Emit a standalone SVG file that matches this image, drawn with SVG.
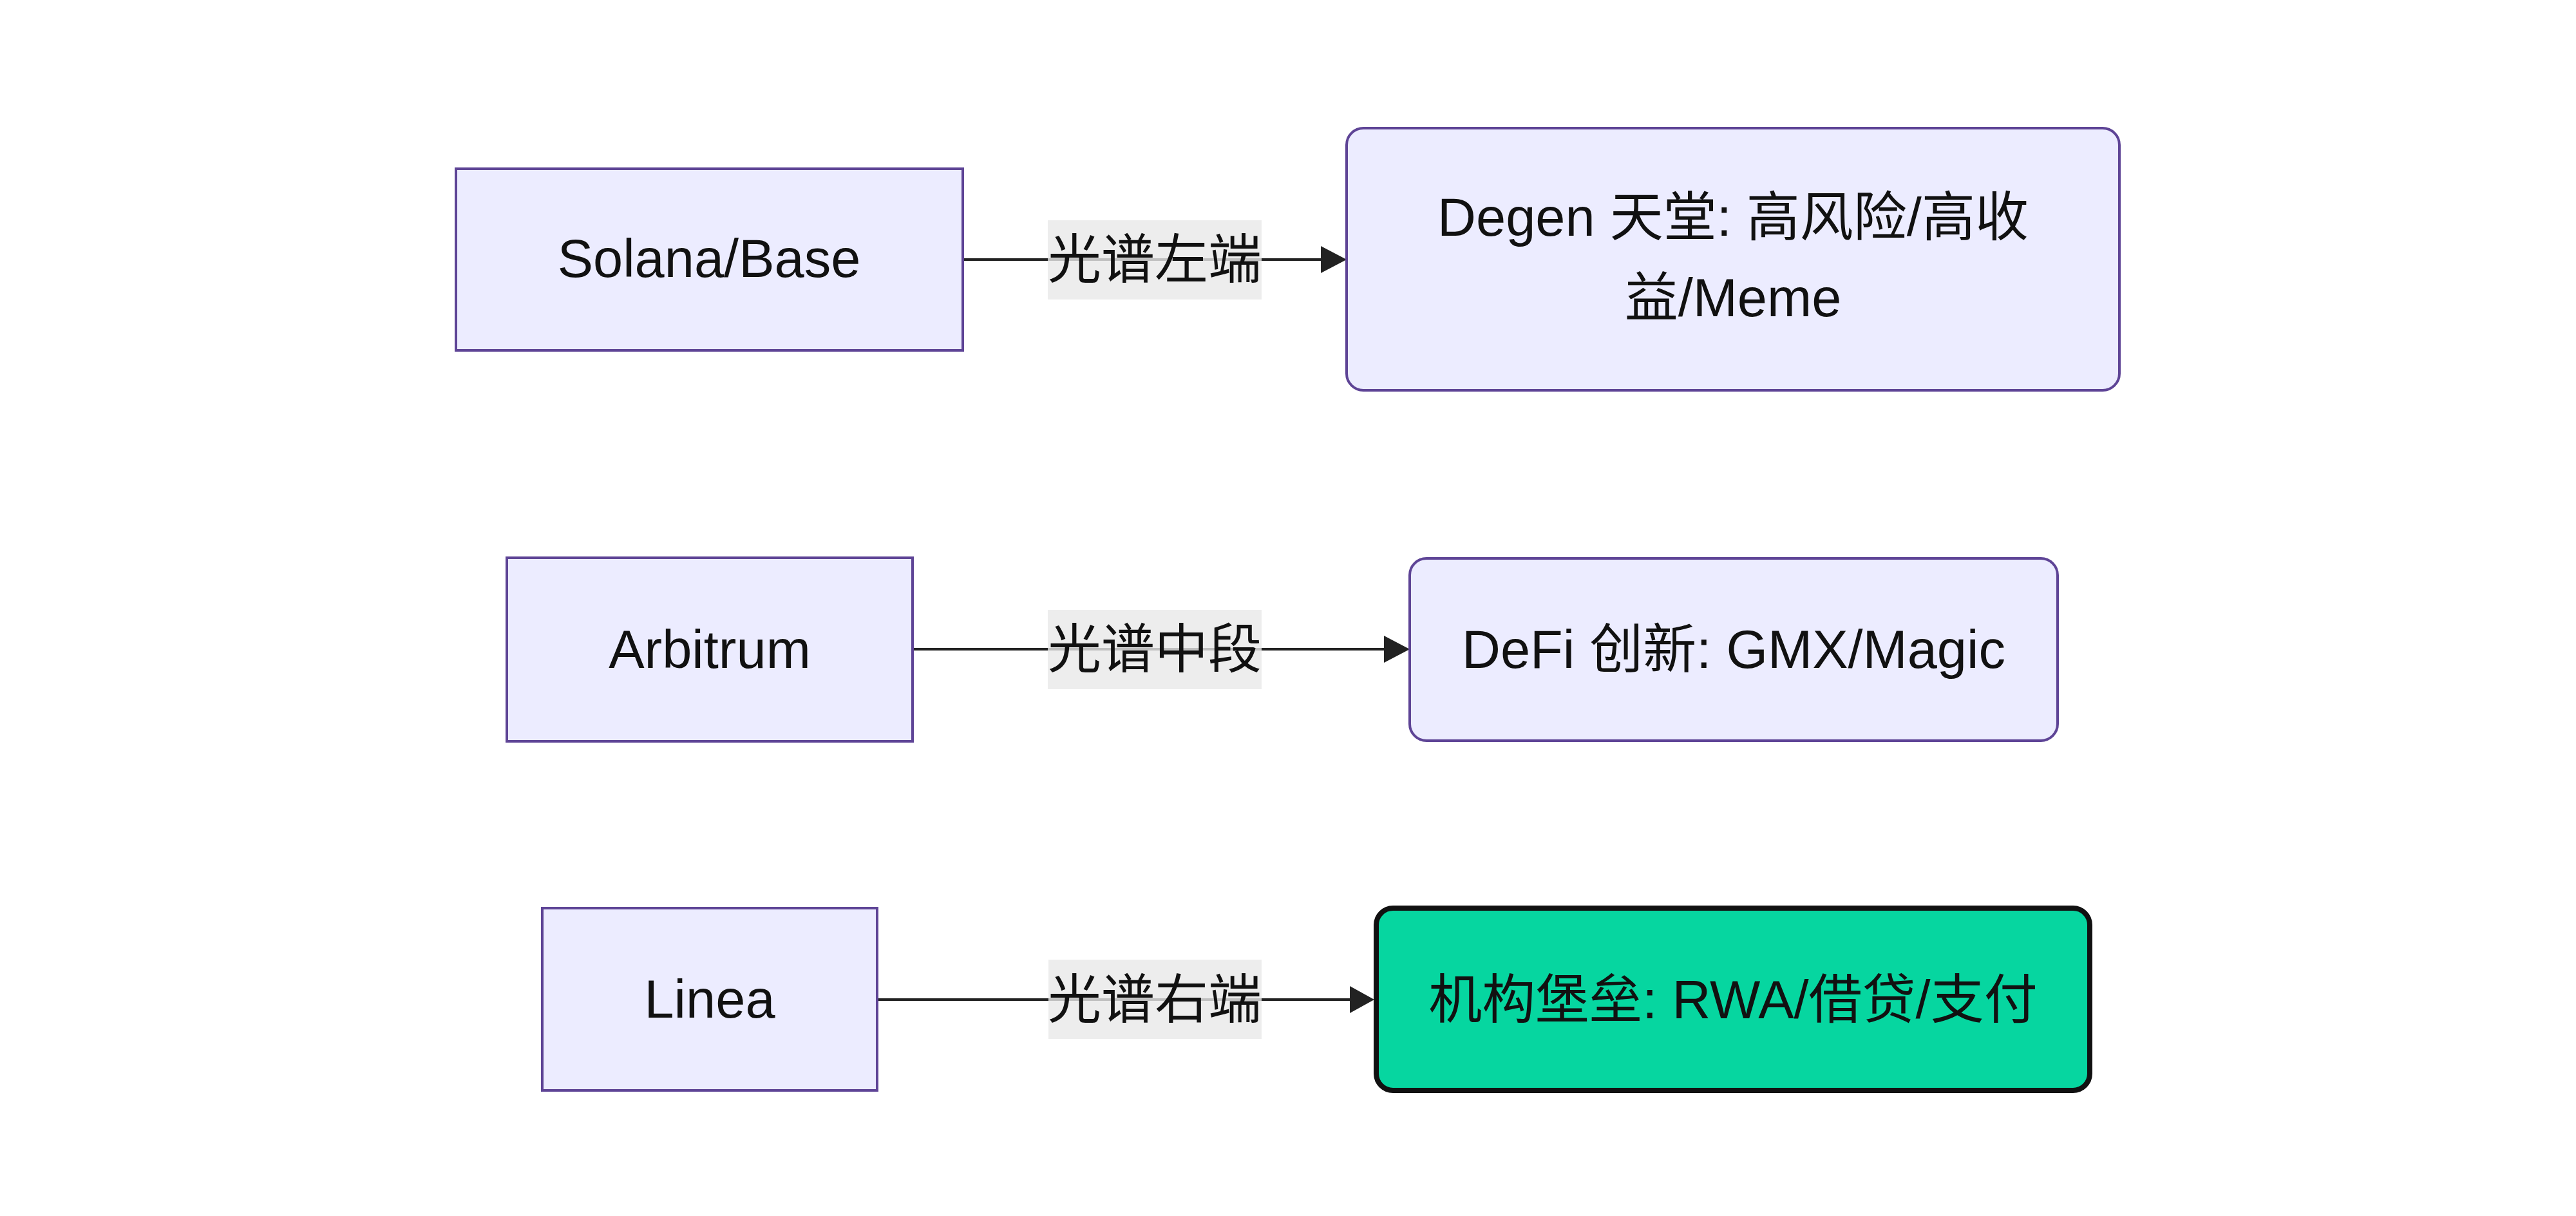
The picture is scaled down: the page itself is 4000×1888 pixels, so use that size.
<svg xmlns="http://www.w3.org/2000/svg" width="4000" height="1888" viewBox="0 0 4000 1888">
<style>
.bg{fill:#ffffff}
.node{fill:#ececff;stroke:#5e4496;stroke-width:4}
.hl{fill:#06d6a0;stroke:#111111;stroke-width:8}
.t{font-family:"Liberation Sans","Noto Sans CJK SC",sans-serif;font-size:83px;fill:#111111;text-anchor:middle}
.edge{stroke:#222222;stroke-width:4;fill:none}
.arrow{fill:#222222}
.lblbg{fill:#e8e8e8;fill-opacity:0.8}
</style>
<rect class="bg" x="0" y="0" width="4000" height="1888"/>
<g id="connectors">
  <g id="e1">
    <line class="edge" x1="1495" y1="403" x2="2056" y2="403"/>
    <polygon class="arrow" points="2051,382 2091,403 2051,424"/>
    <rect class="lblbg" x="1627" y="342" width="332" height="123"/>
    <text class="t" x="1793" y="432">光谱左端</text>
  </g>
  <g id="e2">
    <line class="edge" x1="1417" y1="1008" x2="2154" y2="1008"/>
    <polygon class="arrow" points="2149,987 2189,1008 2149,1029"/>
    <rect class="lblbg" x="1627" y="947" width="332" height="123"/>
    <text class="t" x="1793" y="1037">光谱中段</text>
  </g>
  <g id="e3">
    <line class="edge" x1="1362" y1="1552" x2="2100" y2="1552"/>
    <polygon class="arrow" points="2096,1531 2134,1552 2096,1573"/>
    <rect class="lblbg" x="1628" y="1490" width="331" height="123"/>
    <text class="t" x="1793" y="1581">光谱右端</text>
  </g>
</g>
<g id="solana">
  <rect class="node" x="708" y="262" width="787" height="282"/>
  <text class="t" x="1101" y="430">Solana/Base</text>
</g>
<g id="degen">
  <rect class="node" x="2091" y="199" width="1200" height="407" rx="26" ry="26"/>
  <text class="t" x="2691" y="366">Degen 天堂: 高风险/高收</text>
  <text class="t" x="2691" y="491">益/Meme</text>
</g>
<g id="arbitrum">
  <rect class="node" x="787" y="866" width="630" height="285"/>
  <text class="t" x="1102" y="1037">Arbitrum</text>
</g>
<g id="defi">
  <rect class="node" x="2189" y="867" width="1006" height="283" rx="26" ry="26"/>
  <text class="t" x="2692" y="1037">DeFi 创新: GMX/Magic</text>
</g>
<g id="linea">
  <rect class="node" x="842" y="1410" width="520" height="283"/>
  <text class="t" x="1102" y="1580">Linea</text>
</g>
<g id="institution">
  <rect class="hl" x="2137" y="1410" width="1108" height="283" rx="26" ry="26"/>
  <text class="t" x="2691" y="1581">机构堡垒: RWA/借贷/支付</text>
</g>
</svg>
